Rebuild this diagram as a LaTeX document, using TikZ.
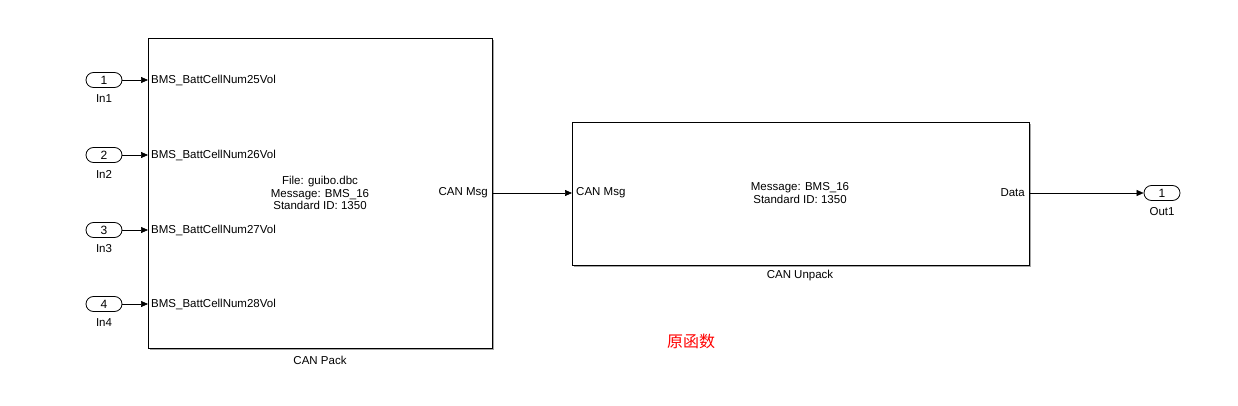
\documentclass[tikz,border=0pt]{standalone}
\usepackage{fontspec}
\setmainfont{Liberation Sans}
\newfontfamily\cjk{Noto Sans CJK SC}
\usetikzlibrary{arrows.meta}
\begin{document}
\begin{tikzpicture}[x=1pt,y=-1pt,
  blk/.style={draw,line width=0.8pt,fill=white},
  port/.style={draw,line width=0.8pt,rounded corners=7.5pt,minimum width=36pt,minimum height=15pt,inner sep=0pt,font=\fontsize{12}{12}\selectfont},
  lbl/.style={font=\fontsize{11.5}{12.5}\selectfont,inner sep=1pt},
  wire/.style={line width=0.6pt,-{Triangle[length=7pt,width=6pt]}}]
\useasboundingbox (0,0) rectangle (1238,406);
% shadows
\draw[line width=1.2pt,gray!70] (150,349.5)--(493.5,349.5)--(493.5,40);
\draw[line width=1.2pt,gray!70] (574,266.5)--(1030.5,266.5)--(1030.5,124);
\draw[blk] (148,38) rectangle (492,348);
\draw[blk] (572,122) rectangle (1029,265);
\node[lbl] (packlbl) at (320,360) {CAN Pack};
\node[lbl] (unpacklbl) at (800,276) {CAN Unpack};
\node[lbl,align=center] (packtxt) at (320,193) {File: guibo.dbc\\Message: BMS\_16\\Standard ID: 1350};
\node[lbl,align=center] (unpacktxt) at (800,193) {Message: BMS\_16\\Standard ID: 1350};
\foreach \i/\y/\n in {1/80/25,2/155/26,3/230/27,4/304/28}{
  \node[port] (in\i) at (104,\y) {\i};
  \node[lbl] at (104,\y+19) {In\i};
  \coordinate (p\i) at (148,\y);
  \node[lbl,anchor=west] at (150,\y) {BMS\_BattCellNum\n Vol};
  \draw[wire] (in\i.east) -- (p\i);
}
\node[lbl,anchor=east] (pout) at (489,193) {CAN Msg};
\node[lbl,anchor=west] (uin) at (575,193) {CAN Msg};
\coordinate (po) at (492,193);
\coordinate (ui) at (572,193);
\draw[wire] (po) -- (ui);
\node[lbl,anchor=east] (dat) at (1026,193) {Data};
\coordinate (uo) at (1029,193);
\node[port] (out1) at (1162,193) {1};
\node[lbl] at (1162,212) {Out1};
\draw[wire] (uo) -- (out1.west);
\node[text=red,font=\cjk\fontsize{16}{16}\selectfont] (note) at (691,341) {原函数};
\end{tikzpicture}
\end{document}
